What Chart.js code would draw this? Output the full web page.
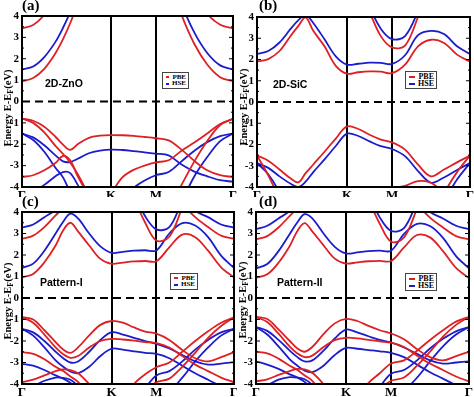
<!DOCTYPE html>
<html lang="en">
  <head>
    <meta charset="UTF-8" />
    <title>Band structures</title>
    <script src="https://cdn.jsdelivr.net/npm/chart.js"></script>
    <style>
      body { margin: 0; background: #fff; }
      #fig { position: relative; width: 474px; height: 397px; overflow: hidden; }
      canvas { position: absolute; }
      .tag { position: absolute; font: bold 15px "Liberation Serif", serif; color: #000; }
      .name { position: absolute; font: bold 10.5px "Liberation Sans", Arial, sans-serif; color: #000; white-space: nowrap; }
      .ytitle {
        position: absolute; font: bold 10.5px "Liberation Serif", serif; color: #000;
        white-space: nowrap; transform: translate(-50%, -50%) rotate(-90deg);
      }
      .ytitle sub { font-size: 8px; vertical-align: -2px; }
      .lg { position: absolute; border: 1px solid #444; background: #fff; box-sizing: border-box;
            font-family: "Liberation Serif", serif; font-weight: bold; color: #000; }
      .lg .row { display: flex; align-items: center; }
      .lg .ln { display: inline-block; height: 2px; }
    </style>
  </head>
  <body>
    <div id="fig">
      <canvas id="pa" width="237" height="197" style="left:0;top:0"></canvas>
      <canvas id="pb" width="237" height="197" style="left:237px;top:0"></canvas>
      <canvas id="pc" width="237" height="200" style="left:0;top:197px"></canvas>
      <canvas id="pd" width="237" height="200" style="left:237px;top:197px"></canvas>

      <div class="tag" style="left:22px;top:-3px">(a)</div>
      <div class="tag" style="left:259px;top:-3px">(b)</div>
      <div class="tag" style="left:22px;top:193px">(c)</div>
      <div class="tag" style="left:259px;top:193px">(d)</div>

      <div class="name" style="left:45px;top:77px">2D-ZnO</div>
      <div class="name" style="left:273px;top:78px">2D-SiC</div>
      <div class="name" style="left:40px;top:276px">Pattern-I</div>
      <div class="name" style="left:277px;top:276px">Pattern-II</div>

      <div class="ytitle" style="left:8px;top:108px">Energy E-E<sub>F</sub>(eV)</div>
      <div class="ytitle" style="left:244px;top:107px">Energy E-E<sub>F</sub>(eV)</div>
      <div class="ytitle" style="left:8px;top:301px">Energy E-E<sub>F</sub>(eV)</div>
      <div class="ytitle" style="left:243px;top:300px">Energy E-E<sub>F</sub>(eV)</div>
    </div>

    <script>
      // k-path: Γ - K - M - Γ (K at 1, M at 1.5, Γ at 2.366)
      const kx = [0, 0.125, 0.25, 0.375, 0.46, 0.54, 0.625, 0.75, 0.875, 1, 1.125, 1.25, 1.375, 1.5, 1.644, 1.789, 1.933, 2.077, 2.222, 2.366];
      const kTicks = [0, 1, 1.5, 2.366];
      const kLabels = ["Γ", "K", "M", "Γ"];
      const seriesNames = ["PBE", "HSE"];

      // (a) 2D-ZnO
      const znoPBE = [
        [0.95, 1.1, 1.53, 2.26, 2.92, 3.66, 4.58, 6.2, 8, 9, 9, 9, 9, 7.9, 5.8, 4.05, 2.69, 1.73, 1.14, 0.95],
        [3.42, 3.58, 4.05, 4.8, 5.5, 6.3, 7, 8, 9, 9, 9, 9, 9, 8, 6.9, 5.6, 4.92, 4.09, 3.59, 3.42],
        [-0.8, -0.9, -1.18, -1.65, -2.02, -2.26, -2.0, -1.7, -1.6, -1.57, -1.58, -1.61, -1.66, -1.72, -1.82, -2.25, -2.78, -3.22, -3.45, -3.53],
        [-0.8, -1.0, -1.45, -2.08, -2.45, -2.85, -3.4, -4.4, -5.5, -6, -6, -6, -6, -6, -5, -3.9, -2.8, -1.85, -1.1, -0.8],
        [-3.53, -3.45, -3.22, -2.88, -2.55, -2.75, -3.5, -4.4, -5.0, -4.3, -3.55, -3.2, -3.0, -2.85, -2.75, -2.3, -1.92, -1.5, -1.05, -0.82]
      ];
      const znoHSE = [
        [1.5, 1.64, 2.08, 2.79, 3.45, 4.18, 5.1, 6.7, 8.5, 9.5, 9.5, 9.5, 9.5, 8.4, 6.3, 4.56, 3.22, 2.27, 1.69, 1.5],
        [-1.5, -1.68, -2.05, -2.52, -2.8, -2.83, -2.68, -2.42, -2.3, -2.25, -2.27, -2.32, -2.38, -2.44, -2.52, -2.95, -3.28, -3.5, -3.68, -3.75],
        [-1.5, -1.8, -2.35, -3.1, -3.55, -4.25, -4.9, -6, -6.5, -7, -7, -7, -7, -7, -6, -4.7, -3.5, -2.6, -1.85, -1.5],
        [-4.5, -4.25, -3.9, -3.5, -3.3, -3.35, -3.9, -4.8, -5.5, -5.3, -4.6, -4.05, -3.7, -3.45, -3.3, -2.8, -2.3, -1.9, -1.62, -1.5]
      ];

      // (b) 2D-SiC
      const sicPBE = [
        [1.9, 2.02, 2.4, 3.12, 3.58, 3.98, 3.35, 2.62, 1.7, 1.33, 1.4, 1.44, 1.43, 1.36, 1.76, 2.62, 2.93, 2.78, 2.23, 1.9],
        [6, 6, 6, 6, 6, 6, 6, 6, 6, 6, 5.5, 4.25, 3.1, 2.57, 2.65, 4.0, 5.5, 6, 6, 6],
        [-2.52, -2.76, -3.18, -3.6, -3.78, -3.35, -2.94, -2.34, -1.72, -1.15, -1.27, -1.54, -1.77, -1.9, -2.24, -2.95, -3.5, -3.18, -2.84, -2.52],
        [-2.52, -3.45, -4.6, -6, -6, -6, -6, -6, -6, -6, -6, -6, -6, -6, -6, -6, -5.5, -4.3, -3.3, -2.52],
        [-6, -6, -6, -6, -6, -6, -6, -6, -6, -6, -6, -5.2, -4.6, -4.1, -3.95, -3.72, -3.8, -4.3, -5, -6]
      ];
      const sicHSE = [
        [2.26, 2.4, 2.8, 3.45, 3.85, 4.1, 3.72, 2.95, 2.15, 1.76, 1.8, 1.85, 1.84, 1.79, 2.2, 3.15, 3.35, 3.2, 2.62, 2.26],
        [6, 6, 6, 6, 6, 6, 6, 6, 6, 6, 6, 4.5, 3.45, 2.96, 3.1, 4.3, 6, 6, 6, 6],
        [-2.87, -3.1, -3.5, -3.85, -4.0, -3.75, -3.3, -2.7, -2.07, -1.49, -1.6, -1.85, -2.08, -2.21, -2.55, -3.25, -3.8, -3.55, -3.2, -2.87],
        [-2.87, -3.4, -4.3, -6, -6, -6, -6, -6, -6, -6, -6, -6, -6, -6, -6, -6, -6, -4.7, -3.65, -2.87]
      ];

      // (c) Pattern-I
      const p1PBE = [
        [0.96, 1.12, 1.66, 2.44, 3.15, 3.5, 3.1, 2.44, 1.82, 1.59, 1.65, 1.7, 1.72, 1.71, 2.36, 2.95, 2.83, 2.2, 1.43, 0.96],
        [2.75, 2.9, 3.3, 3.84, 4.2, 4.6, 5.2, 6, 6, 6, 5.5, 4.6, 3.5, 2.67, 2.85, 4.2, 5.5, 6, 6, 6],
        [6, 6, 6, 6, 6, 6, 6, 6, 6, 6, 6, 6, 6, 6, 5.5, 4.4, 3.76, 3.3, 2.9, 2.75],
        [-0.89, -1.0, -1.5, -2.05, -2.4, -2.55, -2.3, -1.74, -1.25, -1.07, -1.15, -1.37, -1.56, -1.66, -1.95, -2.42, -2.8, -2.95, -2.75, -2.52],
        [-0.89, -1.15, -1.7, -2.3, -2.62, -2.78, -2.7, -2.3, -2.0, -1.9, -1.93, -1.98, -2.05, -2.1, -2.3, -2.7, -3.1, -3.4, -3.7, -3.92],
        [-2.52, -2.6, -2.85, -3.2, -3.4, -3.65, -3.9, -4.5, -5, -5.5, -4.8, -4.0, -3.55, -3.22, -3.0, -2.5, -2.0, -1.55, -1.15, -0.9],
        [-3.92, -3.8, -3.6, -3.4, -3.32, -3.35, -3.5, -4.0, -4.6, -5, -5, -4.8, -4.3, -3.92, -3.75, -3.2, -2.55, -1.85, -1.3, -0.9]
      ];
      const p1HSE = [
        [1.4, 1.6, 2.2, 3.0, 3.55, 3.92, 3.7, 3.0, 2.4, 2.1, 2.15, 2.2, 2.22, 2.21, 3.0, 3.48, 3.37, 2.83, 1.97, 1.4],
        [3.27, 3.42, 3.76, 4.1, 4.5, 5, 5.5, 6, 6, 6, 6, 4.9, 3.8, 3.19, 3.3, 4.5, 5.5, 6, 6, 6],
        [6, 6, 6, 6, 6, 6, 6, 6, 6, 6, 6, 6, 6, 6, 5.5, 4.6, 4.05, 3.76, 3.42, 3.27],
        [-1.43, -1.6, -2.0, -2.5, -2.8, -3.0, -2.95, -2.5, -1.95, -1.59, -1.7, -1.85, -2.0, -2.13, -2.35, -2.65, -2.95, -3.1, -3.05, -2.98],
        [-1.43, -1.75, -2.3, -2.9, -3.2, -3.42, -3.5, -3.2, -2.7, -2.36, -2.4, -2.48, -2.55, -2.6, -2.8, -3.15, -3.5, -3.8, -4.1, -4.3],
        [-3.06, -3.15, -3.35, -3.6, -3.75, -3.95, -4.3, -5, -5.5, -6, -5.5, -5, -4.2, -3.6, -3.4, -2.95, -2.4, -1.95, -1.6, -1.43],
        [-4.3, -4.1, -3.85, -3.7, -3.72, -3.8, -4.1, -4.8, -5.5, -6, -6, -6, -5, -4.3, -4.3, -3.7, -2.95, -2.3, -1.75, -1.43]
      ];

      // (d) Pattern-II
      const p2PBE = [
        [0.93, 1.1, 1.64, 2.42, 3.12, 3.48, 3.1, 2.45, 1.83, 1.6, 1.66, 1.71, 1.73, 1.72, 2.35, 2.93, 2.82, 2.18, 1.4, 0.93],
        [2.73, 2.88, 3.28, 3.82, 4.2, 4.6, 5.2, 6, 6, 6, 5.5, 4.55, 3.45, 2.62, 2.82, 4.15, 5.5, 6, 6, 6],
        [6, 6, 6, 6, 6, 6, 6, 6, 6, 6, 6, 6, 6, 6, 5.5, 4.38, 3.74, 3.28, 2.88, 2.73],
        [-0.88, -0.98, -1.46, -2.0, -2.35, -2.5, -2.28, -1.68, -1.18, -0.97, -1.07, -1.3, -1.5, -1.65, -1.92, -2.38, -2.75, -2.9, -2.7, -2.5],
        [-0.88, -1.12, -1.66, -2.26, -2.58, -2.75, -2.68, -2.28, -1.96, -1.85, -1.88, -1.95, -2.02, -2.08, -2.28, -2.68, -3.05, -3.35, -3.65, -3.88],
        [-2.5, -2.58, -2.82, -3.15, -3.35, -3.6, -3.85, -4.5, -5, -5.5, -4.8, -3.95, -3.5, -3.05, -2.9, -2.45, -1.95, -1.5, -1.1, -0.88],
        [-3.88, -3.78, -3.58, -3.4, -3.3, -3.32, -3.48, -4.0, -4.6, -5, -5, -4.8, -4.25, -3.85, -3.7, -3.15, -2.5, -1.8, -1.25, -0.88]
      ];
      const p2HSE = [
        [1.38, 1.58, 2.18, 2.98, 3.52, 3.9, 3.7, 3.0, 2.38, 2.07, 2.12, 2.18, 2.2, 2.2, 2.98, 3.45, 3.35, 2.8, 1.95, 1.38],
        [3.2, 3.36, 3.7, 4.05, 4.5, 5, 5.5, 6, 6, 6, 6, 4.85, 3.75, 3.12, 3.25, 4.45, 5.5, 6, 6, 6],
        [6, 6, 6, 6, 6, 6, 6, 6, 6, 6, 6, 6, 6, 6, 5.5, 4.55, 4.0, 3.7, 3.36, 3.2],
        [-1.35, -1.53, -1.95, -2.45, -2.75, -2.95, -2.9, -2.45, -1.88, -1.47, -1.6, -1.78, -1.95, -2.07, -2.3, -2.6, -2.9, -3.05, -3.0, -2.95],
        [-1.35, -1.7, -2.25, -2.85, -3.15, -3.38, -3.45, -3.15, -2.65, -2.32, -2.36, -2.42, -2.48, -2.55, -2.75, -3.1, -3.45, -3.75, -4.05, -4.25],
        [-2.95, -3.1, -3.3, -3.55, -3.7, -3.9, -4.25, -5, -5.5, -6, -5.5, -5, -4.15, -3.52, -3.35, -2.9, -2.35, -1.9, -1.55, -1.35],
        [-4.25, -4.05, -3.8, -3.68, -3.7, -3.78, -4.05, -4.8, -5.5, -6, -6, -6, -5, -4.25, -4.25, -3.7, -2.95, -2.25, -1.7, -1.35]
      ];

      const RED = "rgb(222,32,36)";
      const BLUE = "rgb(28,28,205)";
      const SERIF = "'Liberation Serif', 'Times New Roman', serif";

      function bands(list, color) {
        return list.map((b) => ({
          data: b.map((y, i) => ({ x: kx[i], y: y })),
          borderColor: color,
          borderWidth: 1.8,
          pointRadius: 0,
          tension: 0.35,
          fill: false,
        }));
      }

      // frame around the plot area plus small inward ticks
      const frame = {
        id: "frame",
        afterDraw(chart) {
          const { ctx, chartArea: a, scales } = chart;
          ctx.save();
          ctx.strokeStyle = "#000";
          ctx.lineWidth = 1;
          for (let v = -4; v <= 4; v += 0.5) {
            const y = scales.y.getPixelForValue(v);
            const len = Number.isInteger(v) ? 4 : 2;
            ctx.beginPath();
            ctx.moveTo(a.left, y); ctx.lineTo(a.left + len, y);
            ctx.moveTo(a.right, y); ctx.lineTo(a.right - len, y);
            ctx.stroke();
          }
          ctx.lineWidth = 2;
          ctx.strokeRect(a.left, a.top, a.right - a.left, a.bottom - a.top);
          ctx.restore();
        },
      };

      function panel(id, pbe, hse, yw, top, right, xh) {
        const zero = {
          data: [{ x: kx[0], y: 0 }, { x: kx[kx.length - 1], y: 0 }],
          borderColor: "#000",
          borderWidth: 2,
          borderDash: [8, 5],
          pointRadius: 0,
        };
        new Chart(document.getElementById(id), {
          type: "line",
          data: { datasets: [zero, ...bands(pbe, RED), ...bands(hse, BLUE)] },
          options: {
            responsive: false,
            animation: false,
            layout: { padding: { top: top, right: right, left: 0, bottom: 0 } },
            elements: { line: { capBezierPoints: false } },
            plugins: { legend: { display: false }, tooltip: { enabled: false } },
            scales: {
              x: {
                type: "linear",
                min: 0,
                max: 2.366,
                afterBuildTicks: (s) => { s.ticks = kTicks.map((v) => ({ value: v })); },
                afterFit: (s) => { s.height = xh; s.paddingLeft = 0; s.paddingRight = 0; },
                ticks: {
                  callback: (v, i) => kLabels[i],
                  autoSkip: false,
                  maxRotation: 0,
                  padding: 1,
                  color: "#000",
                  font: { family: SERIF, weight: "bold", size: 13 },
                },
                grid: { color: "#000", lineWidth: 2, drawTicks: false },
                border: { color: "#000", width: 2 },
              },
              y: {
                min: -4,
                max: 4,
                afterFit: (s) => { s.width = yw; s.paddingTop = 0; s.paddingBottom = 0; },
                ticks: {
                  stepSize: 1,
                  padding: 3,
                  color: "#000",
                  font: { family: SERIF, weight: "bold", size: 11 },
                },
                grid: { display: false, drawTicks: false },
                border: { color: "#000", width: 2 },
              },
            },
          },
          plugins: [frame],
        });
      }

      panel("pa", znoPBE, znoHSE, 22, 16, 4, 10);
      panel("pb", sicPBE, sicHSE, 20, 17, 4, 10);
      panel("pc", p1PBE, p1HSE, 22, 15, 3, 13);
      panel("pd", p2PBE, p2HSE, 19, 15, 5, 13);

      // small boxed legends inside each panel
      function legend(left, top, w, h, size, lineLen) {
        const box = document.createElement("div");
        box.className = "lg";
        Object.assign(box.style, { left: left + "px", top: top + "px", width: w + "px", height: h + "px",
          fontSize: size + "px", padding: "1px 2px" });
        [RED, BLUE].forEach((c, i) => {
          const row = document.createElement("div");
          row.className = "row";
          row.style.height = (h - 4) / 2 + "px";
          const ln = document.createElement("span");
          ln.className = "ln";
          Object.assign(ln.style, { width: lineLen + "px", background: c, marginRight: "3px", marginLeft: "1px" });
          const tx = document.createElement("span");
          tx.textContent = seriesNames[i];
          tx.style.lineHeight = "1";
          row.append(ln, tx);
          box.append(row);
        });
        document.getElementById("fig").append(box);
      }
      legend(162, 72, 27, 17, 7, 8);
      legend(405, 71, 32, 18, 8, 11);
      legend(170, 273, 28, 17, 7, 9);
      legend(405, 273, 32, 18, 8, 11);
    </script>
  </body>
</html>
